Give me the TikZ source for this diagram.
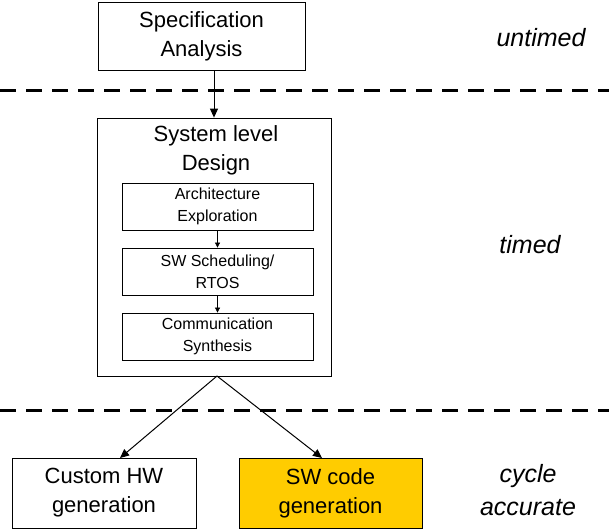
\documentclass[tikz,border=0pt]{standalone}
\usepackage{fontspec}
\setmainfont{Liberation Sans}
\usetikzlibrary{arrows.meta}
\begin{document}
\begin{tikzpicture}[x=1pt,y=-1pt,
  box/.style={draw,line width=0.8pt,align=center,inner sep=0pt},
  big/.style={font=\fontsize{22}{29}\selectfont},
  small/.style={font=\fontsize{16}{22}\selectfont},
  lbl/.style={font=\fontsize{25}{33}\selectfont\itshape,align=center},
  arr/.style={-{Triangle[length=9pt,width=8pt]},line width=1pt},
  sarr/.style={-{Triangle[length=5pt,width=5pt]},line width=0.7pt},
  sep/.style={dash pattern=on 16pt off 10pt,line width=3pt}]
\useasboundingbox (0,0) rectangle (609,530);
\node[box,big,minimum width=207,minimum height=68] (spec) at (201.5,36) {Specification\\Analysis};
\draw[sep] (0,90) coordinate (l1) -- (609,90) coordinate (r1);
\node[box,minimum width=234,minimum height=258] (sys) at (214,247) {};
\node[big,align=center] (syst) at (216,150) {System level\\Design};
\node[box,small,minimum width=191,minimum height=47] (arch) at (217.5,206.5) {Architecture\\Exploration};
\node[box,small,minimum width=191,minimum height=47] (sw) at (217.5,271.5) {SW Scheduling/\\RTOS};
\node[box,small,minimum width=191,minimum height=47] (comm) at (217.5,336.5) {Communication\\Synthesis};
\draw[sep] (0,410) coordinate (l2) -- (609,410) coordinate (r2);
\node[box,big,minimum width=184,minimum height=70] (hw) at (104,493) {Custom HW\\generation};
\node[box,big,minimum width=183,minimum height=70,fill={rgb,255:red,255;green,204;blue,0}] (swc) at (330.5,493) {SW code\\generation};
\draw[arr] (spec.south -| sys.north) -- (sys.north);
\draw[sarr] (arch) -- (sw);
\draw[sarr] (sw) -- (comm);
\coordinate (o) at (217,376);
\draw[arr] (o) -- (120,458);
\draw[arr] (o) -- (322,458);
\node[lbl] (t1) at (541,38) {untimed};
\node[lbl] (t2) at (530,245) {timed};
\node[lbl] (t3) at (528,490) {cycle\\accurate};
\end{tikzpicture}
\end{document}
